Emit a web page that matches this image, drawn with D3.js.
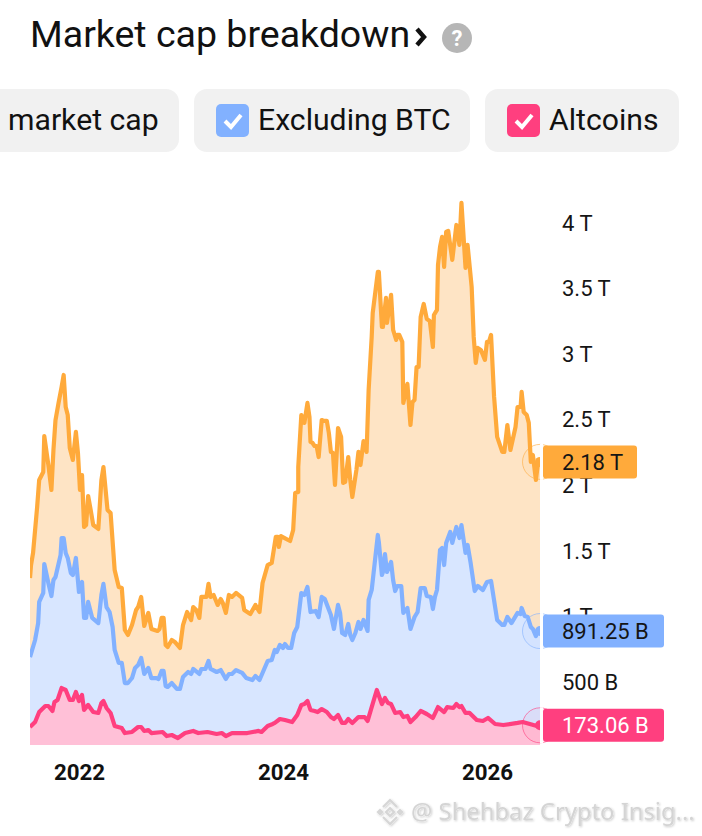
<!DOCTYPE html>
<html>
<head>
<meta charset="utf-8">
<script src="https://cdn.jsdelivr.net/npm/d3@7"></script>
<style>
html,body{margin:0;padding:0;background:#fff;width:702px;height:836px;overflow:hidden}
svg{display:block;font-family:Roboto,sans-serif}
</style>
</head>
<body>
<svg id="c" width="702" height="836"></svg>
<script>
// [decimal year, value in billions of USD]
const totalCap = [
[2021.51,1295],[2021.52,1394],[2021.54,1486],[2021.58,1836],[2021.60,2042],[2021.64,2103],[2021.65,2377],[2021.69,2156],[2021.72,1966],[2021.74,2271],
[2021.76,2499],[2021.79,2629],[2021.82,2751],[2021.84,2842],[2021.86,2598],[2021.88,2537],[2021.90,2286],[2021.93,2195],[2021.96,2408],[2021.98,2248],
[2022.00,1966],[2022.02,2080],[2022.04,1684],[2022.06,1699],[2022.08,1920],[2022.10,1836],[2022.13,1699],[2022.18,1669],[2022.21,2042],[2022.23,2141],
[2022.27,1814],[2022.30,1791],[2022.34,1356],[2022.38,1227],[2022.41,1219],[2022.44,899],[2022.47,861],[2022.51,937],[2022.55,1052],[2022.57,1074],
[2022.60,1151],[2022.63,930],[2022.67,1029],[2022.70,907],[2022.76,892],[2022.78,907],[2022.80,991],[2022.82,991],[2022.84,785],[2022.86,770],
[2022.90,823],[2022.93,808],[2022.98,762],[2023.01,937],[2023.05,1036],[2023.09,975],[2023.11,1074],[2023.14,1052],[2023.17,991],[2023.19,1151],
[2023.24,1151],[2023.26,1250],[2023.28,1151],[2023.31,1166],[2023.35,1090],[2023.38,1135],[2023.40,1105],[2023.43,1029],[2023.46,1166],[2023.49,1151],
[2023.53,1181],[2023.59,1143],[2023.61,1052],[2023.67,1021],[2023.72,1090],[2023.76,1036],[2023.79,1257],[2023.84,1394],[2023.88,1410],[2023.92,1608],
[2023.94,1608],[2023.95,1532],[2023.97,1615],[2024.06,1577],[2024.09,1661],[2024.11,1943],[2024.14,1951],[2024.14,2141],[2024.17,2537],[2024.20,2477],
[2024.23,2629],[2024.25,2522],[2024.26,2332],[2024.28,2324],[2024.30,2301],[2024.32,2301],[2024.34,2217],[2024.37,2499],[2024.39,2492],[2024.42,2492],
[2024.44,2400],[2024.46,2256],[2024.48,2248],[2024.50,2004],[2024.53,2438],[2024.56,2370],[2024.58,2019],[2024.60,2027],[2024.63,2217],[2024.65,2042],
[2024.67,1913],[2024.71,2118],[2024.73,2256],[2024.75,2156],[2024.78,2339],[2024.81,2256],[2024.83,2728],[2024.86,3132],[2024.87,3315],[2024.92,3627],
[2024.93,3627],[2024.96,3208],[2024.97,3208],[2025.00,3429],[2025.01,3239],[2025.05,3452],[2025.07,3185],[2025.10,3109],[2025.11,3147],[2025.13,3147],
[2025.16,3094],[2025.17,2629],[2025.21,2774],[2025.24,2461],[2025.26,2637],[2025.28,2652],[2025.30,2903],[2025.32,2903],[2025.34,3284],[2025.37,3383],
[2025.40,3269],[2025.43,3254],[2025.46,3056],[2025.47,3299],[2025.50,3338],[2025.51,3680],[2025.53,3818],[2025.55,3894],[2025.57,3665],[2025.59,3932],
[2025.61,3940],[2025.65,3719],[2025.69,3985],[2025.72,3833],[2025.74,4153],[2025.78,3658],[2025.80,3833],[2025.84,3513],[2025.86,3132],[2025.88,2934],
[2025.90,3048],[2025.93,3033],[2025.97,2957],[2025.99,3094],[2026.01,3094],[2026.03,3147],[2026.06,2675],[2026.09,2370],[2026.14,2256],[2026.16,2256],
[2026.19,2461],[2026.22,2271],[2026.27,2446],[2026.29,2598],[2026.32,2598],[2026.33,2713],[2026.35,2560],[2026.38,2537],[2026.40,2477],[2026.42,2179],
[2026.44,2233],[2026.47,2042],[2026.49,2170],[2026.51,2180]
];
const excludingBtc = [
[2021.51,693],[2021.56,823],[2021.59,952],[2021.60,1113],[2021.64,1181],[2021.65,1402],[2021.69,1257],[2021.72,1158],[2021.74,1280],[2021.76,1303],
[2021.81,1471],[2021.82,1600],[2021.84,1600],[2021.86,1486],[2021.88,1448],[2021.91,1334],[2021.93,1318],[2021.96,1448],[2021.99,1189],[2022.02,1265],
[2022.04,991],[2022.06,991],[2022.08,1113],[2022.12,991],[2022.18,952],[2022.21,1166],[2022.23,1250],[2022.26,1074],[2022.29,1036],[2022.32,922],
[2022.34,747],[2022.38,648],[2022.41,648],[2022.44,495],[2022.47,495],[2022.51,533],[2022.54,610],[2022.57,632],[2022.60,686],[2022.63,564],
[2022.67,610],[2022.70,533],[2022.75,533],[2022.77,526],[2022.80,587],[2022.82,587],[2022.84,472],[2022.86,465],[2022.90,495],[2022.95,450],
[2022.98,450],[2023.01,541],[2023.06,579],[2023.09,564],[2023.11,602],[2023.17,564],[2023.19,602],[2023.23,602],[2023.26,663],[2023.28,602],
[2023.34,579],[2023.38,594],[2023.43,526],[2023.46,564],[2023.49,564],[2023.53,594],[2023.59,572],[2023.63,533],[2023.69,518],[2023.72,549],
[2023.76,518],[2023.84,663],[2023.88,671],[2023.91,747],[2023.93,732],[2023.96,785],[2023.99,762],[2024.01,792],[2024.04,762],[2024.07,762],
[2024.10,876],[2024.13,922],[2024.17,1181],[2024.20,1166],[2024.23,1227],[2024.26,1036],[2024.31,1044],[2024.34,998],[2024.37,1151],[2024.40,1135],
[2024.43,1074],[2024.46,1013],[2024.49,907],[2024.53,1090],[2024.55,1029],[2024.57,876],[2024.60,861],[2024.63,945],[2024.65,861],[2024.67,823],
[2024.70,876],[2024.73,960],[2024.75,907],[2024.78,975],[2024.82,892],[2024.83,1128],[2024.86,1204],[2024.92,1623],[2024.93,1570],[2024.96,1318],
[2024.97,1341],[2024.99,1478],[2025.01,1341],[2025.05,1417],[2025.07,1280],[2025.09,1196],[2025.11,1234],[2025.15,1234],[2025.17,1029],[2025.21,1067],
[2025.24,907],[2025.28,998],[2025.31,1036],[2025.34,1219],[2025.38,1219],[2025.40,1158],[2025.44,1151],[2025.46,1059],[2025.48,1151],[2025.50,1204],
[2025.53,1509],[2025.55,1524],[2025.57,1394],[2025.59,1562],[2025.63,1646],[2025.65,1562],[2025.69,1684],[2025.72,1600],[2025.74,1699],[2025.78,1486],
[2025.80,1547],[2025.83,1410],[2025.87,1196],[2025.90,1234],[2025.95,1204],[2025.99,1265],[2026.03,1273],[2026.09,975],[2026.14,937],[2026.16,937],
[2026.19,998],[2026.23,952],[2026.29,1029],[2026.32,1021],[2026.33,1067],[2026.36,1006],[2026.39,998],[2026.42,922],[2026.44,907],[2026.47,853],
[2026.49,899],[2026.51,891]
];
const altcoins = [
[2021.51,160],[2021.56,198],[2021.60,274],[2021.66,320],[2021.69,320],[2021.73,282],[2021.75,351],[2021.78,366],[2021.82,457],[2021.86,442],
[2021.90,366],[2021.93,366],[2021.96,427],[2021.99,358],[2022.02,404],[2022.04,290],[2022.08,328],[2022.13,274],[2022.18,267],[2022.21,343],
[2022.23,358],[2022.26,305],[2022.30,267],[2022.34,168],[2022.41,152],[2022.44,114],[2022.51,122],[2022.57,160],[2022.60,160],[2022.63,130],
[2022.67,137],[2022.70,114],[2022.81,122],[2022.85,91],[2022.90,99],[2022.96,76],[2023.03,114],[2023.11,130],[2023.16,114],[2023.25,122],
[2023.34,107],[2023.39,114],[2023.43,91],[2023.49,114],[2023.64,114],[2023.75,130],[2023.78,122],[2023.84,168],[2023.89,183],[2023.91,191],
[2023.96,221],[2024.01,213],[2024.08,198],[2024.13,251],[2024.17,328],[2024.20,335],[2024.23,358],[2024.26,290],[2024.30,282],[2024.33,274],
[2024.37,297],[2024.42,274],[2024.46,236],[2024.49,221],[2024.53,251],[2024.57,191],[2024.60,191],[2024.63,221],[2024.67,191],[2024.73,236],
[2024.79,236],[2024.82,206],[2024.86,312],[2024.91,442],[2024.96,335],[2024.99,381],[2025.02,343],[2025.05,335],[2025.09,267],[2025.14,274],
[2025.17,236],[2025.21,244],[2025.24,198],[2025.29,236],[2025.34,282],[2025.40,259],[2025.46,229],[2025.51,312],[2025.57,274],[2025.60,312],
[2025.66,305],[2025.69,335],[2025.72,312],[2025.74,320],[2025.78,267],[2025.82,267],[2025.89,213],[2025.95,206],[2026.00,229],[2026.07,183],
[2026.15,175],[2026.29,191],[2026.34,198],[2026.41,183],[2026.48,168],[2026.51,173]
];
const yearTicks = [2022, 2024, 2026];
const valueTicks = [500, 1000, 1500, 2000, 2500, 3000, 3500, 4000];
const valueLabels = ["500 B", "1 T", "1.5 T", "2 T", "2.5 T", "3 T", "3.5 T", "4 T"];
const seriesNames = ["market cap", "Excluding BTC", "Altcoins"];
const lastLabels = ["2.18 T", "891.25 B", "173.06 B"];

const svg = d3.select("#c");
const x = d3.scaleLinear().domain([2021.51, 2026.51]).range([30, 540]);
const y = d3.scaleLinear().domain([0, 4000]).range([748, 223]);

const defs = svg.append("defs");
defs.append("clipPath").attr("id", "plot").append("rect")
  .attr("x", 30).attr("y", 150).attr("width", 510).attr("height", 595);
defs.append("filter").attr("id","wm").attr("x","-5%").attr("y","-20%").attr("width","110%").attr("height","140%")
  .append("feDropShadow").attr("dx",1).attr("dy",1).attr("stdDeviation",0.8).attr("flood-color","#000").attr("flood-opacity",0.22);

/* header */
svg.append("text").attr("x", 30).attr("y", 47).attr("font-size", 37.5).attr("fill", "#111").text("Market cap breakdown");
svg.append("path").attr("d", "M417 29 L424 37 L417 45").attr("fill", "none").attr("stroke", "#111").attr("stroke-width", 4.4);
svg.append("circle").attr("cx", 457).attr("cy", 38).attr("r", 15).attr("fill", "#b6b6b6");
svg.append("text").attr("x", 457).attr("y", 46).attr("text-anchor", "middle").attr("font-size", 22).attr("font-weight", 700).attr("fill", "#fff").text("?");

/* legend chips */
const chips = [
  {x:-40, w:219, tx:8, name:seriesNames[0]},
  {x:194, w:276, tx:258, name:seriesNames[1], box:216, col:"#82b1ff"},
  {x:485, w:194, tx:549, name:seriesNames[2], box:507, col:"#ff3f7f"}
];
const chip = svg.append("g").selectAll("g").data(chips).join("g");
chip.append("rect").attr("x", d=>d.x).attr("y", 89).attr("width", d=>d.w).attr("height", 63).attr("rx", 13).attr("fill", "#f1f1f1");
chip.filter(d=>d.box).append("rect").attr("x", d=>d.box).attr("y", 104).attr("width", 33).attr("height", 33).attr("rx", 5).attr("fill", d=>d.col);
chip.filter(d=>d.box).append("path").attr("d", d=>`M${d.box+9} ${121} l6 6 l10 -12`).attr("fill","none").attr("stroke","#fff").attr("stroke-width",4);
chip.append("text").attr("x", d=>d.tx).attr("y", 130).attr("font-size", 30.2).attr("fill", "#111").text(d=>d.name);

/* series */
const series = [
  {data: totalCap, line:"#ffaa3b", fill:"#fee4c5"},
  {data: excludingBtc, line:"#82b1ff", fill:"#d8e6ff"},
  {data: altcoins, line:"#ff3f7f", fill:"#ffc0d7"}
];
const area = d3.area().x(d=>x(d[0])).y0(y(0)).y1(d=>y(d[1]));
const line = d3.line().x(d=>x(d[0])).y(d=>y(d[1]));
const plot = svg.append("g").attr("clip-path", "url(#plot)");
series.forEach(s=>{
  plot.append("path").datum(s.data).attr("d", area).attr("fill", s.fill);
  plot.append("path").datum(s.data).attr("d", line).attr("fill", "none").attr("stroke", s.line).attr("stroke-width", 4.2).attr("stroke-linejoin","round");
});

/* axes */
const fmtV = v => valueLabels[valueTicks.indexOf(v)];
const yAxis = svg.append("g").attr("transform", "translate(562,0)")
  .call(d3.axisRight(y).tickValues(valueTicks).tickSize(0).tickPadding(0).tickFormat(fmtV));
yAxis.select(".domain").remove();
yAxis.selectAll("text").attr("font-family","Roboto").attr("font-size", 22).attr("fill", "#151515").attr("x", 0);

const xAxis = svg.append("g").attr("transform", "translate(0,772)")
  .call(d3.axisBottom(x).tickValues(yearTicks).tickSize(0).tickPadding(0).tickFormat(d3.format("d")));
xAxis.select(".domain").remove();
xAxis.selectAll("text").attr("font-family","Roboto").attr("font-size", 22.3).attr("font-weight", 700).attr("fill", "#111").attr("dy", "0.36em").attr("y", 0).attr("x", -1);

/* end markers and value badges */
const badges = [
  {s:0, w:94, txt:"#151515"},
  {s:1, w:121, txt:"#151515"},
  {s:2, w:121, txt:"#ffffff"}
];
badges.forEach(b=>{
  const s = series[b.s], last = s.data[s.data.length-1], cy = y(last[1]), cx = x(last[0]);
  svg.append("circle").attr("cx", cx).attr("cy", cy).attr("r", 17.5).attr("fill", s.line).attr("fill-opacity", 0.05).attr("stroke", s.line).attr("stroke-opacity", 0.6).attr("stroke-width", 1);
  svg.append("circle").attr("cx", cx).attr("cy", cy).attr("r", 5).attr("fill", s.line);
  svg.append("rect").attr("x", 540).attr("y", cy-18).attr("width", 3).attr("height", 36).attr("fill", "#fff");
  svg.append("rect").attr("x", 543).attr("y", cy-16.5).attr("width", b.w).attr("height", 33).attr("rx", 3).attr("fill", s.line);
  svg.append("text").attr("x", 562).attr("y", cy).attr("dy", "0.36em").attr("font-size", 22).attr("fill", b.txt).text(lastLabels[b.s]);
});

/* watermark */
const wm = svg.append("g").attr("filter", "url(#wm)");
const logo = wm.append("g").attr("transform","translate(390,812)").attr("fill","none").attr("stroke","#d6d6d6").attr("stroke-width",2.2);
logo.append("path").attr("d","M-7 -5 L0 -12 L7 -5");
logo.append("path").attr("d","M-7 5 L0 12 L7 5");
logo.append("path").attr("d","M-4 0 L0 -4 L4 0 L0 4 Z");
logo.append("path").attr("d","M-12 0 L-10 -2 L-8 0 L-10 2 Z M12 0 L10 -2 L8 0 L10 2 Z");
wm.append("text").attr("x", 411).attr("y", 820).attr("font-family","'Noto Sans','DejaVu Sans',sans-serif").attr("font-size", 23.8).attr("fill", "#d4d4d4").text("@ Shehbaz Crypto Insig...");
</script>
</body>
</html>
